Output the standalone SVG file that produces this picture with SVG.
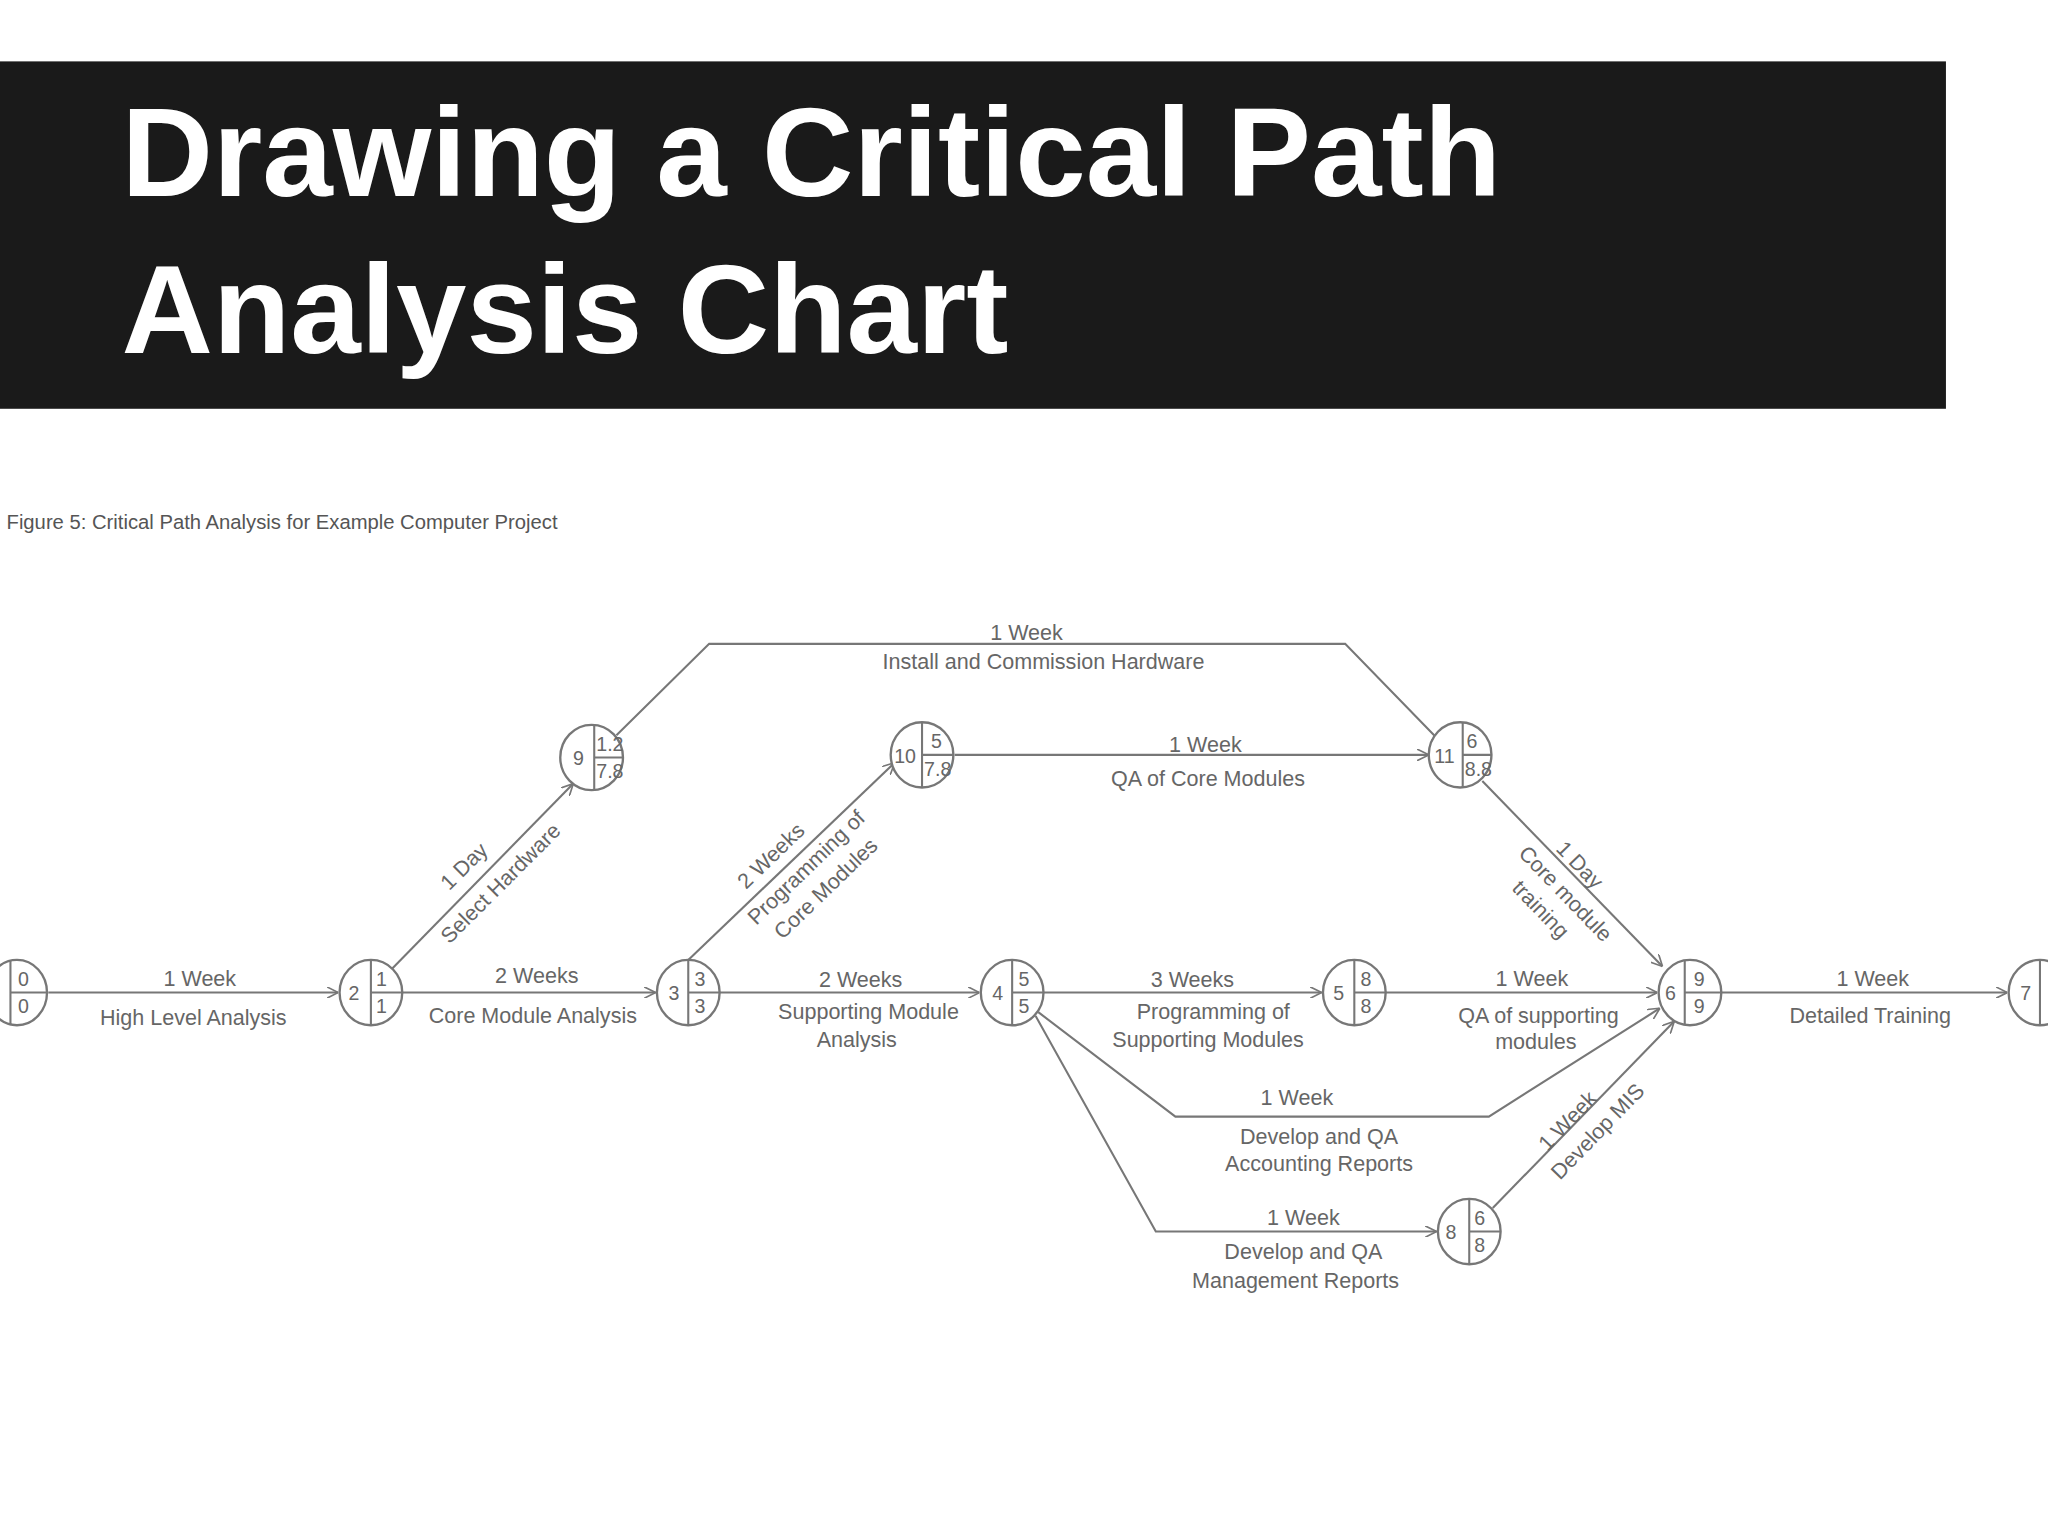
<svg xmlns="http://www.w3.org/2000/svg" width="2048" height="1536" viewBox="0 0 2048 1536">
<defs>
<style>
.t{font-family:"Liberation Sans",Arial,sans-serif;fill:#666;font-size:16.5px;text-anchor:middle}
.n{font-family:"Liberation Sans",Arial,sans-serif;fill:#666;font-size:15px;text-anchor:middle}
.e{fill:none;stroke:#777;stroke-width:1.6}
.c{fill:#fff;stroke:#777;stroke-width:1.8}
.d{stroke:#777;stroke-width:1.6}
</style>
<marker id="a" viewBox="0 0 10 10" refX="10" refY="5" markerWidth="9" markerHeight="9" orient="auto" markerUnits="userSpaceOnUse"><path d="M0,0 L10,5 L0,10" fill="none" stroke="#777" stroke-width="1.4"/></marker>
</defs>
<rect width="2048" height="1536" fill="#fff"/>
<g transform="scale(1.306)">
<rect x="0" y="47" width="1490" height="266" fill="#1a1a1a"/>
<text x="93" y="150" font-family="Liberation Sans,Arial,sans-serif" font-weight="bold" font-size="97" fill="#fff">Drawing a Critical Path</text>
<text x="93" y="270" font-family="Liberation Sans,Arial,sans-serif" font-weight="bold" font-size="97" fill="#fff">Analysis Chart</text>
<text x="5" y="405" font-family="Liberation Sans,Arial,sans-serif" font-size="15.5" fill="#555">Figure 5: Critical Path Analysis for Example Computer Project</text>

<g id="connectors">
<path class="e" d="M37,760 H259" marker-end="url(#a)"/>
<path class="e" d="M308,760 H502" marker-end="url(#a)"/>
<path class="e" d="M551,760 H750" marker-end="url(#a)"/>
<path class="e" d="M799,760 H1012" marker-end="url(#a)"/>
<path class="e" d="M1061,760 H1269" marker-end="url(#a)"/>
<path class="e" d="M1318,760 H1537" marker-end="url(#a)"/>
<path class="e" d="M300,742 L439,600" marker-end="url(#a)"/>
<path class="e" d="M472,563 L543,493 H1030 L1105,570" marker-end="url(#a)"/>
<path class="e" d="M527,735 L685,584" marker-end="url(#a)"/>
<path class="e" d="M731,578 H1094" marker-end="url(#a)"/>
<path class="e" d="M1135,598 L1273,740" marker-end="url(#a)"/>
<path class="e" d="M795,775 L900,855 H1140 L1271,772" marker-end="url(#a)"/>
<path class="e" d="M793,778 L885,943 H1100" marker-end="url(#a)"/>
<path class="e" d="M1143,925 L1282,782" marker-end="url(#a)"/>

<text class="t" x="153" y="755">1 Week</text>
<text class="t" x="148" y="785">High Level Analysis</text>
<text class="t" x="411" y="753">2 Weeks</text>
<text class="t" x="408" y="783">Core Module Analysis</text>
<text class="t" x="659" y="756">2 Weeks</text>
<text class="t" x="665" y="780">Supporting Module</text>
<text class="t" x="656" y="802">Analysis</text>
<text class="t" x="913" y="756">3 Weeks</text>
<text class="t" x="929" y="780">Programming of</text>
<text class="t" x="925" y="802">Supporting Modules</text>
<text class="t" x="1173" y="755">1 Week</text>
<text class="t" x="1178" y="783">QA of supporting</text>
<text class="t" x="1176" y="803">modules</text>
<text class="t" x="1434" y="755">1 Week</text>
<text class="t" x="1432" y="783">Detailed Training</text>
<text class="t" x="786" y="490">1 Week</text>
<text class="t" x="799" y="512">Install and Commission Hardware</text>
<text class="t" x="923" y="576">1 Week</text>
<text class="t" x="925" y="602">QA of Core Modules</text>
<text class="t" x="993" y="846">1 Week</text>
<text class="t" x="1010" y="876">Develop and QA</text>
<text class="t" x="1010" y="897">Accounting Reports</text>
<text class="t" x="998" y="938">1 Week</text>
<text class="t" x="998" y="964">Develop and QA</text>
<text class="t" x="992" y="986">Management Reports</text>
<text class="t" transform="rotate(-45 355 663)" x="355" y="669">1 Day</text>
<text class="t" transform="rotate(-45 383 676)" x="383" y="682">Select Hardware</text>
<text class="t" transform="rotate(-44 590 655)" x="590" y="661">2 Weeks</text>
<text class="t" transform="rotate(-44 617 664)" x="617" y="670">Programming of</text>
<text class="t" transform="rotate(-44 632 680)" x="632" y="686">Core Modules</text>
<text class="t" transform="rotate(46 1210 662)" x="1210" y="668">1 Day</text>
<text class="t" transform="rotate(46 1199 684)" x="1199" y="690">Core module</text>
<text class="t" transform="rotate(46 1180 696)" x="1180" y="702">training</text>
<text class="t" transform="rotate(-46 1200 858)" x="1200" y="864">1 Week</text>
<text class="t" transform="rotate(-46 1223 866)" x="1223" y="872">Develop MIS</text>
</g>

<g id="n1"><ellipse class="c" cx="13" cy="760" rx="23" ry="25"/><path class="d" d="M8,735 V785 M8,760 H36"/><text class="n" x="18" y="755">0</text><text class="n" x="18" y="776">0</text></g>
<g id="n2"><ellipse class="c" cx="284" cy="760" rx="24" ry="25"/><path class="d" d="M284,735 V785 M284,760 H308"/><text class="n" x="271" y="766">2</text><text class="n" x="292" y="755">1</text><text class="n" x="292" y="776">1</text></g>
<g id="n3"><ellipse class="c" cx="527" cy="760" rx="24" ry="25"/><path class="d" d="M527,735 V785 M527,760 H551"/><text class="n" x="516" y="766">3</text><text class="n" x="536" y="755">3</text><text class="n" x="536" y="776">3</text></g>
<g id="n4"><ellipse class="c" cx="775" cy="760" rx="24" ry="25"/><path class="d" d="M775,735 V785 M775,760 H799"/><text class="n" x="764" y="766">4</text><text class="n" x="784" y="755">5</text><text class="n" x="784" y="776">5</text></g>
<g id="n5"><ellipse class="c" cx="1037" cy="760" rx="24" ry="25"/><path class="d" d="M1037,735 V785 M1037,760 H1061"/><text class="n" x="1025" y="766">5</text><text class="n" x="1046" y="755">8</text><text class="n" x="1046" y="776">8</text></g>
<g id="n6"><ellipse class="c" cx="1294" cy="760" rx="24" ry="25"/><path class="d" d="M1290,735 V785 M1290,760 H1318"/><text class="n" x="1279" y="766">6</text><text class="n" x="1301" y="755">9</text><text class="n" x="1301" y="776">9</text></g>
<g id="n7"><ellipse class="c" cx="1562" cy="760" rx="24" ry="25"/><path class="d" d="M1562,735 V785"/><text class="n" x="1551" y="766">7</text></g>
<g id="n9"><ellipse class="c" cx="453" cy="580" rx="24" ry="25"/><path class="d" d="M455,555 V605 M455,580 H477"/><text class="n" x="443" y="586">9</text><text class="n" x="467" y="575">1.2</text><text class="n" x="467" y="596">7.8</text></g>
<g id="n10"><ellipse class="c" cx="706" cy="578" rx="24" ry="25"/><path class="d" d="M706,553 V603 M706,578 H730"/><text class="n" x="693" y="584">10</text><text class="n" x="717" y="573">5</text><text class="n" x="718" y="594">7.8</text></g>
<g id="n11"><ellipse class="c" cx="1118" cy="578" rx="24" ry="25"/><path class="d" d="M1120,553 V603 M1120,578 H1142"/><text class="n" x="1106" y="584">11</text><text class="n" x="1127" y="573">6</text><text class="n" x="1132" y="594">8.8</text></g>
<g id="n8"><ellipse class="c" cx="1125" cy="943" rx="24" ry="25"/><path class="d" d="M1125,918 V968 M1125,943 H1149"/><text class="n" x="1111" y="949">8</text><text class="n" x="1133" y="938">6</text><text class="n" x="1133" y="959">8</text></g>
</g>
</svg>
